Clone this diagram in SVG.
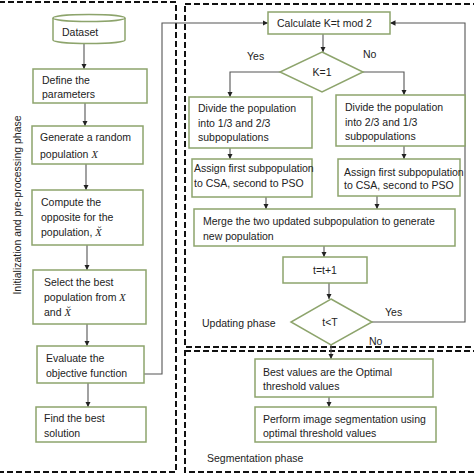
<svg xmlns="http://www.w3.org/2000/svg" width="474" height="474" viewBox="0 0 474 474">
<style>
  .box{fill:#fff;stroke:#8da46c;stroke-width:1.5}
  .t{font-family:"Liberation Sans",Arial,sans-serif;font-size:10.5px;fill:#222}
  .c{text-anchor:middle}
  .x{font-family:"Liberation Serif",serif;font-style:italic}
  .ln{fill:none;stroke:#555;stroke-width:1.1}
  .dash{fill:none;stroke:#111;stroke-width:2;stroke-dasharray:6 3}
</style>
<defs>
  <marker id="ah" viewBox="0 0 10 10" refX="10" refY="5" markerWidth="5" markerHeight="5" orient="auto">
    <path d="M0,0 L10,5 L0,10 Z" fill="#222"/>
  </marker>
</defs>
<rect width="474" height="474" fill="#fff"/>

<g id="panels">
  <rect class="dash" x="-1" y="2" width="177" height="470"/>
  <rect class="dash" x="185" y="4" width="300" height="343"/>
  <rect class="dash" x="185" y="351" width="300" height="121"/>
  <text class="t c" font-size="10" transform="translate(21,205) rotate(-90)">Initialization and pre-processing phase</text>
  <text class="t" x="202" y="327">Updating phase</text>
  <text class="t" x="207" y="462">Segmentation phase</text>
</g>

<g id="connectors">
  <line class="ln" x1="84" y1="43" x2="84" y2="69" marker-end="url(#ah)"/>
  <line class="ln" x1="85" y1="103" x2="85" y2="126" marker-end="url(#ah)"/>
  <line class="ln" x1="86" y1="164" x2="86" y2="190" marker-end="url(#ah)"/>
  <line class="ln" x1="87" y1="245" x2="87" y2="270" marker-end="url(#ah)"/>
  <line class="ln" x1="87" y1="324" x2="87" y2="346" marker-end="url(#ah)"/>
  <line class="ln" x1="88" y1="383" x2="88" y2="407" marker-end="url(#ah)"/>
  <path class="ln" d="M144,374 H162 V23 H268" marker-end="url(#ah)"/>
  <line class="ln" x1="323" y1="34" x2="323" y2="52" marker-end="url(#ah)"/>
  <path class="ln" d="M280,72 H230 V97" marker-end="url(#ah)"/>
  <path class="ln" d="M363,72 H404 V95" marker-end="url(#ah)"/>
  <line class="ln" x1="230" y1="148" x2="230" y2="159" marker-end="url(#ah)"/>
  <line class="ln" x1="404" y1="146" x2="404" y2="159" marker-end="url(#ah)"/>
  <line class="ln" x1="266" y1="197" x2="266" y2="209" marker-end="url(#ah)"/>
  <line class="ln" x1="377" y1="196" x2="377" y2="209" marker-end="url(#ah)"/>
  <line class="ln" x1="324" y1="246" x2="324" y2="257" marker-end="url(#ah)"/>
  <line class="ln" x1="329" y1="283" x2="329" y2="299" marker-end="url(#ah)"/>
  <line class="ln" x1="331" y1="345" x2="331" y2="359" marker-end="url(#ah)"/>
  <line class="ln" x1="329" y1="397" x2="329" y2="407" marker-end="url(#ah)"/>
  <path class="ln" d="M372,322 H465 V23 H390" marker-end="url(#ah)"/>
  <text class="t" x="247" y="60">Yes</text>
  <text class="t" x="363" y="58">No</text>
  <text class="t" x="385" y="316">Yes</text>
  <text class="t" x="369" y="345">No</text>
</g>

<g id="dataset">
  <path class="box" d="M53,18 A36,3.5 0 0 1 125,18 V40 A36,3.5 0 0 1 53,40 Z"/>
  <path class="box" fill="none" d="M53,18 A36,3.5 0 0 0 125,18"/>
  <text class="t" x="62" y="36">Dataset</text>
</g>
<g id="define">
  <rect class="box" x="33" y="69" width="114" height="34"/>
  <text class="t" x="42" y="84">Define the</text>
  <text class="t" x="42" y="98">parameters</text>
</g>
<g id="generate">
  <rect class="box" x="32" y="126" width="111" height="38"/>
  <text class="t" x="40" y="141">Generate a random</text>
  <text class="t" x="40" y="158">population <tspan class="x">X</tspan></text>
</g>
<g id="compute">
  <rect class="box" x="32" y="190" width="111" height="55"/>
  <text class="t" x="41" y="206">Compute the</text>
  <text class="t" x="41" y="221">opposite for the</text>
  <text class="t" x="41" y="236">population, <tspan class="x">X̆</tspan></text>
</g>
<g id="select">
  <rect class="box" x="33" y="270" width="113" height="54"/>
  <text class="t" x="44" y="286">Select the best</text>
  <text class="t" x="44" y="301">population from <tspan class="x">X</tspan></text>
  <text class="t" x="44" y="316">and <tspan class="x">X̆</tspan></text>
</g>
<g id="evaluate">
  <rect class="box" x="37" y="346" width="107" height="37"/>
  <text class="t" x="46" y="362">Evaluate the</text>
  <text class="t" x="46" y="377">objective function</text>
</g>
<g id="find">
  <rect class="box" x="36" y="407" width="110" height="35"/>
  <text class="t" x="44" y="422">Find the best</text>
  <text class="t" x="44" y="437">solution</text>
</g>

<g id="calculate">
  <rect class="box" x="268" y="12" width="122" height="22"/>
  <text class="t" x="277" y="27" font-size="11.5">Calculate K=t mod 2</text>
</g>
<g id="k1">
  <polygon class="box" points="322,52 363,72 322,92 280,72"/>
  <text class="t c" x="322" y="76">K=1</text>
</g>
<g id="divide-left">
  <rect class="box" x="189" y="97" width="123" height="51"/>
  <text class="t" x="198" y="112">Divide the population</text>
  <text class="t" x="198" y="127">into 1/3 and 2/3</text>
  <text class="t" x="198" y="141">subpopulations</text>
</g>
<g id="divide-right">
  <rect class="box" x="336" y="95" width="129" height="51"/>
  <text class="t" x="345" y="111">Divide the population</text>
  <text class="t" x="345" y="126">into 2/3 and 1/3</text>
  <text class="t" x="345" y="140">subpopulations</text>
</g>
<g id="assign-left">
  <rect class="box" x="192" y="159" width="120" height="38"/>
  <text class="t" x="194" y="172" font-size="10.2">Assign first subpopulation</text>
  <text class="t" x="194" y="187" font-size="10.2">to CSA, second to PSO</text>
</g>
<g id="assign-right">
  <rect class="box" x="338" y="159" width="122" height="37"/>
  <text class="t" x="344" y="176" font-size="10.2">Assign first subpopulation</text>
  <text class="t" x="344" y="189" font-size="10.2">to CSA, second to PSO</text>
</g>
<g id="merge">
  <rect class="box" x="194" y="209" width="261" height="37"/>
  <text class="t" x="203" y="225">Merge the two updated subpopulation to generate</text>
  <text class="t" x="203" y="240">new population</text>
</g>
<g id="increment">
  <rect class="box" x="283" y="257" width="84" height="26"/>
  <text class="t c" x="325" y="274">t=t+1</text>
</g>
<g id="tT">
  <polygon class="box" points="331,299 372,322 331,345 291,322"/>
  <text class="t c" x="330" y="326">t&lt;T</text>
</g>
<g id="best">
  <rect class="box" x="255" y="359" width="178" height="38"/>
  <text class="t" x="263" y="376">Best values are the Optimal</text>
  <text class="t" x="263" y="390">threshold values</text>
</g>
<g id="perform">
  <rect class="box" x="255" y="407" width="181" height="35"/>
  <text class="t" x="263" y="423">Perform image segmentation using</text>
  <text class="t" x="263" y="437">optimal threshold values</text>
</g>
</svg>
